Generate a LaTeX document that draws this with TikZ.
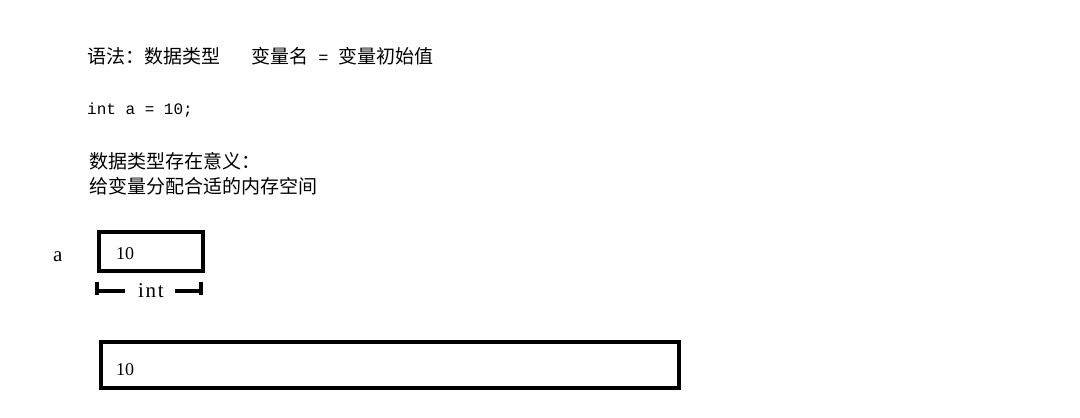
\documentclass[tikz,border=0pt]{standalone}
\usepackage{fontspec}
\setmainfont{Liberation Serif}
\setmonofont{Liberation Mono}
\newfontfamily\cjk{Noto Sans CJK SC}
\begin{document}
\begin{tikzpicture}[x=1pt,y=-1pt,
  txt/.style={inner sep=0pt, anchor=base west},
  cjktxt/.style={txt, font=\cjk\fontsize{19}{22}\selectfont},
  codetxt/.style={txt, font=\ttfamily\fontsize{16}{19}\selectfont},
  valtxt/.style={txt, font=\fontsize{18}{21}\selectfont},
  lbltxt/.style={txt, font=\fontsize{21}{24}\selectfont\addfontfeature{LetterSpace=8}},
  cell/.style={draw, line width=4pt, inner sep=0pt, anchor=north west},
  brk/.style={line width=3.5pt}]
\useasboundingbox[fill=white] (0,0) rectangle (1080,418);
\node[cjktxt] (syn) at (87,63) {语法：数据类型\hspace{31pt}变量名{\ttfamily\fontsize{17}{19}\selectfont{} = }变量初始值};
\node[codetxt] (code) at (87,114) {int a = 10;};
\node[cjktxt] (mean1) at (89,168) {数据类型存在意义：};
\node[cjktxt] (mean2) at (89,193) {给变量分配合适的内存空间};
\node[lbltxt] (lbla) at (53,261) {a};
\node[cell, minimum width=104pt, minimum height=39pt] (box1) at (97,230) {};
\node[valtxt] (val1) at (116,259) {10};
\node[lbltxt] (lblint) at (138,297) {int};
\coordinate (bl) at (97,291);
\coordinate (blt) at (97,282);
\coordinate (blb) at (97,295);
\coordinate (bli) at (125,291);
\coordinate (br) at (201,291);
\coordinate (brt) at (201,282);
\coordinate (brb) at (201,295);
\coordinate (bri) at (175,291);
\draw[brk] (blt) -- (blb);
\draw[brk] (bl) -- (bli);
\draw[brk] (brt) -- (brb);
\draw[brk] (bri) -- (br);
\node[cell, minimum width=578pt, minimum height=46pt] (box2) at (99,340) {};
\node[valtxt] (val2) at (116,375) {10};
\end{tikzpicture}
\end{document}
